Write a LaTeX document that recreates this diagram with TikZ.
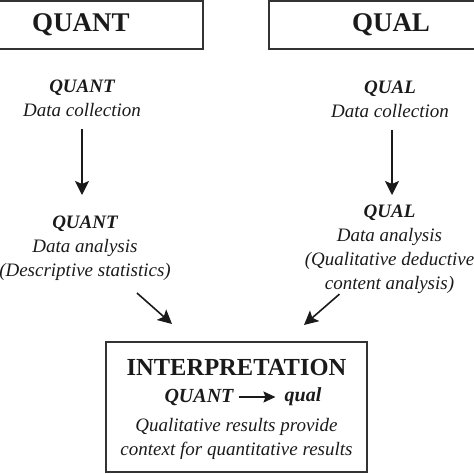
\documentclass[tikz,border=0pt]{standalone}
\usepackage{fontspec}
\setmainfont{Liberation Serif}
\usetikzlibrary{arrows.meta,calc}
\definecolor{ink}{HTML}{1A1A1A}
\definecolor{edge}{HTML}{333333}
\begin{document}
\begin{tikzpicture}[x=1pt,y=-1pt,
  headbox/.style={draw=edge,line width=2pt,minimum width=244pt,minimum height=48pt,inner sep=0pt,
    font=\fontsize{27}{30}\selectfont\bfseries,text=ink},
  txt/.style={align=center,inner sep=0pt,font=\fontsize{19}{24}\selectfont\itshape,text=ink},
  bi/.style={inner sep=0pt,font=\fontsize{20}{24}\selectfont\bfseries\itshape,text=ink},
  arr/.style={draw=ink,line width=1.6pt,-{Stealth[length=14pt,width=14pt,inset=3pt]}},
  smallarr/.style={draw=ink,line width=1.6pt,-{Stealth[length=12pt,width=11pt,inset=2pt]}},
]
\useasboundingbox (0,0) rectangle (474,474);
\clip (0,0) rectangle (474,474);
\node[headbox] (quant) at (81,25) {QUANT};
\node[headbox] (qual) at (391,25) {QUAL};

\node[txt,anchor=north] (c1) at (82,80) {\textbf{QUANT}\\Data collection};
\node[txt,anchor=north] (a1) at (85,216) {\textbf{QUANT}\\Data analysis\\(Descriptive statistics)};
\node[txt,anchor=north] (c2) at (390,81) {\textbf{QUAL}\\Data collection};
\node[txt,anchor=north] (a2) at (389.5,205) {\textbf{QUAL}\\Data analysis\\(Qualitative deductive\\content analysis)};

\draw[arr] ([yshift=-12pt]c1.south) -- (c1.south |- 0,195);
\draw[arr] ([xshift=2pt,yshift=-12pt]c2.south) -- ([xshift=2pt]c2.south |- 0,195);

\node[draw=edge,line width=2pt,minimum width=261pt,minimum height=130pt,inner sep=0pt] (interp) at (236.5,407) {};
\node[inner sep=0pt,font=\fontsize{24.5}{28}\selectfont\bfseries,text=ink] (it) at (236.5,368) {INTERPRETATION};
\node[bi] (qn) at (199,397) {QUANT};
\node[bi] (ql) at (303,397) {qual};
\draw[smallarr,shorten <=5pt,shorten >=9pt] (qn) -- (ql);
\node[txt] (res) at (236.5,438.5) {Qualitative results provide\\context for quantitative results};

\draw[arr] ([xshift=52pt,yshift=-12pt]a1.south) -- ($(interp.north west)+(67,-17)$);
\draw[arr] ($(a2.south)+(-50,0)$) -- ($(interp.north east)+(-64,-16)$);
\end{tikzpicture}
\end{document}
